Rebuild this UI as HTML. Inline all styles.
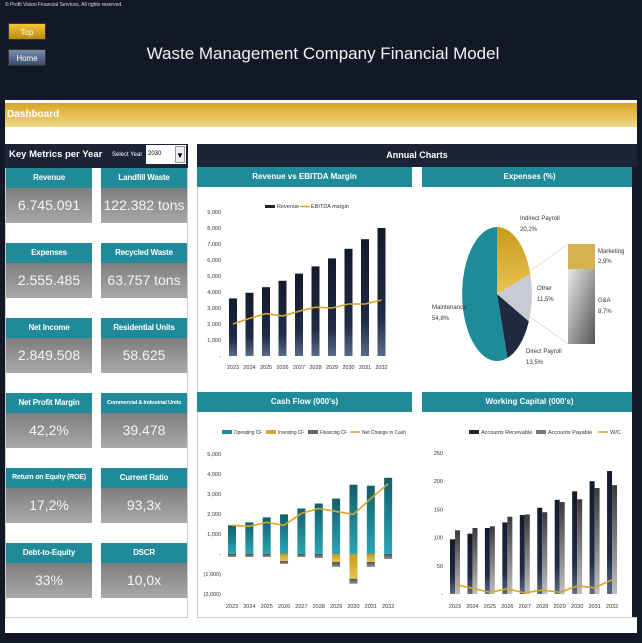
<!DOCTYPE html>
<html><head><meta charset="utf-8">
<style>
*{margin:0;padding:0;box-sizing:border-box}
body{width:642px;height:643px;background:#121826;font-family:"Liberation Sans",sans-serif;position:relative;overflow:hidden;color:#fff}
.a{position:absolute}
.btn{position:absolute;left:8px;width:38px;height:17px;font-size:8px;text-align:center;line-height:17px;color:#fff;border:1px solid #333}
.cardh{position:absolute;height:20px;background:#1f8a9a;font-size:8px;font-weight:bold;text-align:center;line-height:20px;color:#fff;white-space:nowrap;overflow:hidden;letter-spacing:-0.2px}
.cardv{position:absolute;height:35px;background:linear-gradient(#7e7e7e,#a9a9a9);font-size:14px;text-align:center;line-height:35px;color:#f4f4f4}
.th{position:absolute;height:20px;background:#1f8a9a;font-size:8px;font-weight:bold;text-align:center;line-height:20px;color:#fff}
svg text{font-family:"Liberation Sans",sans-serif}
</style></head><body>
<div class="a" style="left:5px;top:2px;font-size:5px;color:#ddd">© Profit Vision Financial Services. All rights reserved.</div>
<div class="btn" style="top:23px;background:linear-gradient(#f4c636,#b98a10)">Top</div>
<div class="btn" style="top:49px;background:linear-gradient(#7a8cad,#3b4c6d)">Home</div>
<div class="a" style="left:0;width:646px;top:44px;text-align:center;font-size:17px;color:#f2f2f2">Waste Management Company Financial Model</div>
<div class="a" style="left:5px;top:100px;width:632px;height:533px;background:#fff"></div>
<div class="a" style="left:5px;top:103px;width:632px;height:24px;background:linear-gradient(#d9a520,#f0d78a);font-size:10px;font-weight:bold;line-height:24px;padding-left:2px">Dashboard</div>
<div class="a" style="left:5px;top:144px;width:183px;height:474px;border:1px solid #ccc"></div>
<div class="a" style="left:5px;top:144px;width:183px;height:24px;background:#1b2436"></div>
<div class="a" style="left:9px;top:149px;font-size:9.5px;font-weight:bold">Key Metrics per Year</div>
<div class="a" style="left:112px;top:152px;font-size:6px">Select Year</div>
<div class="a" style="left:146px;top:145px;width:40px;height:19px;background:#fff;color:#000;font-size:6px;line-height:19px;padding-left:2px">2030</div>
<div class="a" style="left:175px;top:146px;width:10px;height:17px;background:#eee;border:1px solid #999;color:#000;font-size:8px;text-align:center;line-height:17px">▼</div>
<div id="cards"></div>
<div class="a" style="left:197px;top:144px;width:440px;height:474px;border:1px solid #ccc"></div>
<div class="a" style="left:197px;top:144px;width:440px;height:23px;background:#1b2436;text-align:center;font-size:9px;font-weight:bold;line-height:23px">Annual Charts</div>
<div class="th" style="left:197px;top:167px;width:215px">Revenue vs EBITDA Margin</div>
<div class="th" style="left:422px;top:167px;width:215px">Expenses (%)</div>
<div class="th" style="left:197px;top:392px;width:215px">Cash Flow (000's)</div>
<div class="th" style="left:422px;top:392px;width:215px">Working Capital (000's)</div>
<div class="a" style="left:412px;top:187px;width:10px;height:205px;background:#fff"></div>
<div class="a" style="left:632px;top:167px;width:10px;height:450px;background:#121826"></div>
<svg class="a" style="left:0;top:0" width="642" height="643" id="sv">
<defs>
<linearGradient id="nv" x1="0" y1="0" x2="0" y2="1"><stop offset="0" stop-color="#131a2a"/><stop offset="0.7" stop-color="#1f2a44"/><stop offset="1" stop-color="#5a6a88"/></linearGradient>
<linearGradient id="tl" x1="0" y1="0" x2="0" y2="1"><stop offset="0" stop-color="#145e6a"/><stop offset="1" stop-color="#2aa5b4"/></linearGradient>
<linearGradient id="gr" x1="0" y1="0" x2="0" y2="1"><stop offset="0" stop-color="#3a3a3a"/><stop offset="1" stop-color="#bfbfbf"/></linearGradient>
<linearGradient id="gd" x1="0" y1="0" x2="0" y2="1"><stop offset="0" stop-color="#c99a1a"/><stop offset="1" stop-color="#e7c453"/></linearGradient>
<linearGradient id="ga" x1="0" y1="0" x2="1" y2="1"><stop offset="0" stop-color="#e8e8e8"/><stop offset="1" stop-color="#555"/></linearGradient>
<linearGradient id="gy" x1="0" y1="0" x2="0" y2="1"><stop offset="0" stop-color="#555"/><stop offset="1" stop-color="#888"/></linearGradient>
</defs>
<g transform="translate(497,294) scale(0.52,1)">
<path id="p1" fill="url(#gd)"/><path id="p2" fill="#c8ccd2"/><path id="p3" fill="#1e2a40"/><path id="p4" fill="#1f8a9a"/>
</g>
<rect x="568" y="244" width="27" height="25" fill="#d4b250"/>
<rect x="568" y="269" width="27" height="75" fill="url(#ga)"/>
<line x1="532" y1="270" x2="568" y2="244" stroke="#ccc" stroke-width="0.6"/>
<line x1="530" y1="317" x2="568" y2="344" stroke="#ccc" stroke-width="0.6"/>
<g font-size="6" fill="#333">
<text x="520" y="220">Indirect Payroll</text><text x="520" y="231">20,2%</text>
<text x="598" y="253">Marketing</text><text x="598" y="263">2,9%</text>
<text x="537" y="290">Other</text><text x="537" y="301">11,5%</text>
<text x="598" y="302">G&amp;A</text><text x="598" y="313">8,7%</text>
<text x="432" y="309">Maintenance</text><text x="432" y="320">54,8%</text>
<text x="526" y="353">Direct Payroll</text><text x="526" y="364">13,5%</text>
</g>
</svg>
<script>
var cards=[["Revenue","6.745.091","Landfill Waste","122.382 tons"],["Expenses","2.555.485","Recycled Waste","63.757 tons"],["Net Income","2.849.508","Residential Units","58.625"],["Net Profit Margin","42,2%","Commercial & Industrial Units","39.478"],["Return on Equity (ROE)","17,2%","Current Ratio","93,3x"],["Debt-to-Equity","33%","DSCR","10,0x"]];
var h="";cards.forEach(function(c,i){var y=168+i*75;
function hd(x,t){var fs=t.length>24?5.6:(t.length>18?7:8);return '<div class="cardh" style="left:'+x+'px;top:'+y+'px;width:86px;font-size:'+fs+'px">'+t.replace("&","&amp;")+'</div>';}
h+=hd(6,c[0])+'<div class="cardv" style="left:6px;top:'+(y+20)+'px;width:86px">'+c[1]+'</div>';
h+=hd(101,c[2])+'<div class="cardv" style="left:101px;top:'+(y+20)+'px;width:86px">'+c[3]+'</div>';});
document.getElementById("cards").innerHTML=h;
var s="",yrs=[2023,2024,2025,2026,2027,2028,2029,2030,2031,2032];
function T(x,y,t,a,tl){s+='<text x="'+x+'" y="'+y+'" font-size="5.5" fill="#333"'+(a?' text-anchor="'+a+'"':'')+(tl?' textLength="'+tl+'" lengthAdjust="spacingAndGlyphs"':'')+'>'+t+'</text>';}
var rv=[3600,3950,4300,4700,5150,5600,6100,6700,7300,8000],eb=[2000,2350,2650,2500,2800,3050,3000,3250,3250,3500];
for(var k=0;k<=9;k++){var v=k*1000;T(221,356-v*0.016+2,k?(k+",000"):"-","end");}
var pts=[];yrs.forEach(function(y,i){var x=233+i*16.5;s+='<rect x="'+(x-4)+'" y="'+(356-rv[i]*0.016)+'" width="8" height="'+rv[i]*0.016+'" fill="url(#nv)"/>';T(x,369,y,"middle");pts.push(x+","+(356-eb[i]*0.016));});
s+='<polyline points="'+pts.join(" ")+'" fill="none" stroke="#d4a72c" stroke-width="1.6"/>';
s+='<rect x="265" y="205" width="10" height="3" fill="#1b2436"/>';T(277,208,"Revenue");s+='<line x1="300" y1="206.5" x2="310" y2="206.5" stroke="#d4a72c" stroke-width="1.5"/>';T(311,208,"EBITDA margin");
var op=[1450,1600,1850,2000,2300,2550,2800,3500,3450,3850],iv=[0,0,0,-350,0,0,-400,-1250,-400,0],fi=[-150,-150,-150,-150,-150,-200,-250,-250,-250,-250],nc=[1450,1400,1600,1450,2050,2300,2150,2000,2800,3550];
var lbl=["(2,000)","(1,000)","-","1,000","2,000","3,000","4,000","5,000"];
for(var k=-2;k<=5;k++)T(221,554-k*20+2,lbl[k+2],"end");
pts=[];yrs.forEach(function(y,i){var x=232+i*17.35,sc=0.0198;
s+='<rect x="'+(x-4)+'" y="'+(554-op[i]*sc)+'" width="8" height="'+op[i]*sc+'" fill="url(#tl)"/>';
s+='<rect x="'+(x-4)+'" y="554" width="8" height="'+(-iv[i]*sc)+'" fill="url(#gd)"/>';
s+='<rect x="'+(x-4)+'" y="'+(554-iv[i]*sc)+'" width="8" height="'+(-fi[i]*sc)+'" fill="url(#gy)"/>';
T(x,608,y,"middle");pts.push(x+","+(554-nc[i]*sc));});
s+='<polyline points="'+pts.join(" ")+'" fill="none" stroke="#d4a72c" stroke-width="1.6"/>';
s+='<rect x="222" y="430" width="10" height="4" fill="#1f8a9a"/>';T(234,434,"Operating CF","",28);
s+='<rect x="266" y="430" width="10" height="4" fill="#d4a72c"/>';T(278,434,"Investing CF","",26);
s+='<rect x="308" y="430" width="10" height="4" fill="#666"/>';T(320,434,"Financing CF","",27);
s+='<line x1="350" y1="432" x2="360" y2="432" stroke="#d4a72c" stroke-width="1.5"/>';T(362,434,"Net Change in Cash","",44);
var ar=[97,107,117,127,140,153,167,182,200,218],ap=[113,117,120,137,141,145,163,168,188,193],wc=[17,10,3,9,2,7,3,14,11,25];
for(var k=0;k<=5;k++)T(443,594-k*50*0.564+2,k?k*50:"-","end");
pts=[];yrs.forEach(function(y,i){var x=455+i*17.45,sc=0.564;
s+='<rect x="'+(x-5)+'" y="'+(594-ar[i]*sc)+'" width="5" height="'+ar[i]*sc+'" fill="url(#nv)"/>';
s+='<rect x="'+(x)+'" y="'+(594-ap[i]*sc)+'" width="5" height="'+ap[i]*sc+'" fill="url(#gr)"/>';
T(x,608,y,"middle");pts.push(x+","+(594-wc[i]*sc));});
s+='<polyline points="'+pts.join(" ")+'" fill="none" stroke="#d4a72c" stroke-width="1.6"/>';
s+='<rect x="469" y="430" width="10" height="4" fill="#1b2436"/>';T(481,434,"Accounts Receivable");
s+='<rect x="536" y="430" width="10" height="4" fill="#777"/>';T(548,434,"Accounts Payable");
s+='<line x1="598" y1="432" x2="608" y2="432" stroke="#d4a72c" stroke-width="1.5"/>';T(610,434,"W/C");
document.getElementById("sv").insertAdjacentHTML("beforeend",s);
var fr=[0.202,0.115,0.135,0.548],st=-Math.PI/2,R=67,ids=["p1","p2","p3","p4"];
fr.forEach(function(f,i){var e=st+f*2*Math.PI,x1=R*Math.cos(st),y1=R*Math.sin(st),x2=R*Math.cos(e),y2=R*Math.sin(e);
document.getElementById(ids[i]).setAttribute("d","M0,0L"+x1+","+y1+"A"+R+","+R+" 0 "+(f>0.5?1:0)+" 1 "+x2+","+y2+"Z");st=e;});
</script>
</body></html>
